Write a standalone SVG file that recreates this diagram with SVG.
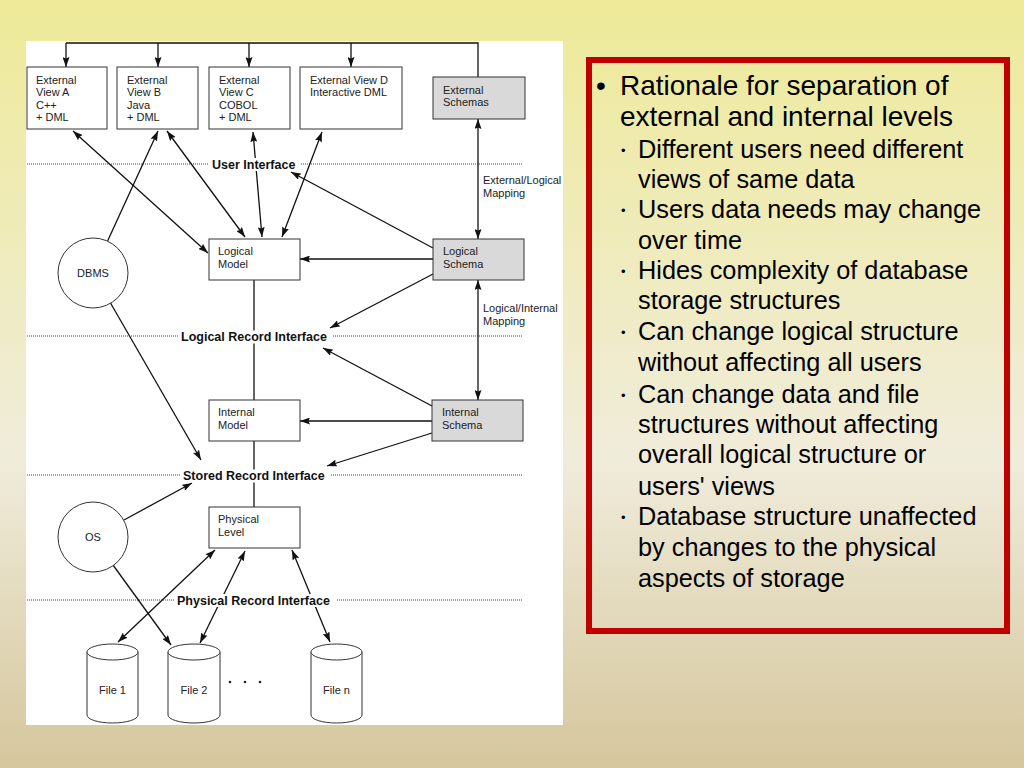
<svg xmlns="http://www.w3.org/2000/svg" width="1024" height="768" viewBox="0 0 1024 768">
<defs>
<linearGradient id="bg" x1="0" y1="0" x2="0" y2="1">
<stop offset="0" stop-color="#eeea98"/>
<stop offset="0.6" stop-color="#f0ecdb"/>
<stop offset="1" stop-color="#d5c69c"/>
</linearGradient>
<marker id="ah" viewBox="0 0 10 7" refX="10" refY="3.5" markerWidth="10" markerHeight="7" markerUnits="userSpaceOnUse" orient="auto-start-reverse">
<path d="M0,0 L10,3.5 L0,7 L1.5,3.5 z" fill="#111"/>
</marker>
<style>
.box{fill:#fff;stroke:#333;stroke-width:1}
.gbox{fill:#d9d9d9;stroke:#333;stroke-width:1}
.t{font-family:"Liberation Sans",Arial,sans-serif;font-size:11px;fill:#222}
.ti{font-family:"Liberation Sans",Arial,sans-serif;font-size:12.5px;font-weight:bold;fill:#111}
.c{fill:none;stroke:#111;stroke-width:1.3}
.a{fill:none;stroke:#111;stroke-width:1.3;marker-end:url(#ah)}
.b{fill:none;stroke:#111;stroke-width:1.3;marker-start:url(#ah);marker-end:url(#ah)}
.dot{stroke:#444;stroke-width:1;stroke-dasharray:1 1}
.m{font-family:"Liberation Sans",Arial,sans-serif;font-size:28px;fill:#000}
.s{font-family:"Liberation Sans",Arial,sans-serif;font-size:25.3px;fill:#000}
.sb{font-family:"Liberation Sans",Arial,sans-serif;font-size:13px;fill:#000}
</style>
</defs>
<rect x="0" y="0" width="1024" height="768" fill="url(#bg)"/>
<rect x="26" y="41" width="537" height="684" fill="#fff"/>

<g id="interfaces">
<line class="dot" x1="27" y1="164" x2="522" y2="164"/>
<line class="dot" x1="27" y1="336" x2="522" y2="336"/>
<line class="dot" x1="27" y1="475" x2="522" y2="475"/>
<line class="dot" x1="27" y1="600" x2="522" y2="600"/>
</g>

<g id="connectors">
<polyline class="c" points="66,43 478,43 478,77"/>
<line class="a" x1="66" y1="43" x2="66" y2="67"/>
<line class="a" x1="158" y1="43" x2="158" y2="67"/>
<line class="a" x1="249" y1="43" x2="249" y2="67"/>
<line class="a" x1="351" y1="43" x2="351" y2="67"/>
<line class="b" x1="73" y1="131" x2="208" y2="253"/>
<line class="a" x1="107.6" y1="241" x2="158" y2="131"/>
<line class="b" x1="167" y1="131" x2="245" y2="237"/>
<line class="b" x1="253" y1="132" x2="262" y2="237"/>
<line class="b" x1="322" y1="132" x2="282" y2="237"/>
<line class="b" x1="478" y1="119" x2="478" y2="239"/>
<line class="a" x1="433" y1="248" x2="291" y2="172"/>
<line class="a" x1="433" y1="259" x2="300" y2="259"/>
<line class="a" x1="433" y1="274" x2="330" y2="328"/>
<line class="b" x1="478" y1="280" x2="478" y2="400"/>
<line class="c" x1="254" y1="280" x2="254" y2="400"/>
<line class="c" x1="254" y1="441" x2="254" y2="507"/>
<line class="a" x1="110.5" y1="303" x2="201" y2="460"/>
<line class="a" x1="432" y1="406" x2="323" y2="348"/>
<line class="a" x1="432" y1="421" x2="300" y2="421"/>
<line class="a" x1="432" y1="433" x2="327" y2="466"/>
<line class="a" x1="124" y1="520" x2="192" y2="483"/>
<line class="a" x1="113" y1="565" x2="171" y2="645"/>
<line class="b" x1="215" y1="550" x2="118" y2="642"/>
<line class="b" x1="245" y1="551" x2="200" y2="643"/>
<line class="b" x1="292" y1="550" x2="330" y2="642"/>
</g>

<g id="interface-labels">
<rect x="209" y="158" width="91" height="13" fill="#fff"/>
<text class="ti" x="212" y="168.5">User Interface</text>
<rect x="178" y="330.5" width="155" height="13" fill="#fff"/>
<text class="ti" x="181" y="340.5">Logical Record Interface</text>
<rect x="180" y="469.5" width="151" height="13" fill="#fff"/>
<text class="ti" x="183" y="479.5">Stored Record Interface</text>
<rect x="174" y="594" width="162" height="13" fill="#fff"/>
<text class="ti" x="177" y="604.5">Physical Record Interface</text>
</g>

<g id="viewA"><rect class="box" x="27" y="67" width="80" height="62"/>
<text class="t" x="36" y="83.5">External</text><text class="t" x="36" y="96">View A</text><text class="t" x="36" y="108.5">C++</text><text class="t" x="36" y="121">+ DML</text></g>
<g id="viewB"><rect class="box" x="117" y="67" width="81" height="62"/>
<text class="t" x="127" y="83.5">External</text><text class="t" x="127" y="96">View B</text><text class="t" x="127" y="108.5">Java</text><text class="t" x="127" y="121">+ DML</text></g>
<g id="viewC"><rect class="box" x="209" y="67" width="81" height="62"/>
<text class="t" x="219" y="83.5">External</text><text class="t" x="219" y="96">View C</text><text class="t" x="219" y="108.5">COBOL</text><text class="t" x="219" y="121">+ DML</text></g>
<g id="viewD"><rect class="box" x="300" y="67" width="102" height="62"/>
<text class="t" x="310" y="83.5">External View D</text><text class="t" x="310" y="96">Interactive DML</text></g>
<g id="externalSchemas"><rect class="gbox" x="433" y="77" width="92" height="42"/>
<text class="t" x="443" y="93.5">External</text><text class="t" x="443" y="106">Schemas</text></g>
<g id="mapping1"><text class="t" x="483" y="184">External/Logical</text><text class="t" x="483" y="196.5">Mapping</text></g>
<g id="dbms"><circle cx="93" cy="273" r="35" fill="#fff" stroke="#333" stroke-width="1"/>
<text class="t" x="93" y="277" text-anchor="middle">DBMS</text></g>
<g id="logicalModel"><rect class="box" x="209" y="239" width="91" height="41"/>
<text class="t" x="218" y="255">Logical</text><text class="t" x="218" y="268">Model</text></g>
<g id="logicalSchema"><rect class="gbox" x="433" y="239" width="91" height="41"/>
<text class="t" x="443" y="255">Logical</text><text class="t" x="443" y="268">Schema</text></g>
<g id="mapping2"><text class="t" x="483" y="312">Logical/Internal</text><text class="t" x="483" y="325">Mapping</text></g>
<g id="internalModel"><rect class="box" x="209" y="400" width="91" height="41"/>
<text class="t" x="218" y="416">Internal</text><text class="t" x="218" y="429">Model</text></g>
<g id="internalSchema"><rect class="gbox" x="432" y="400" width="91" height="41"/>
<text class="t" x="442" y="416">Internal</text><text class="t" x="442" y="429">Schema</text></g>
<g id="os"><circle cx="93" cy="537" r="35" fill="#fff" stroke="#333" stroke-width="1"/>
<text class="t" x="93" y="541" text-anchor="middle">OS</text></g>
<g id="physicalLevel"><rect class="box" x="209" y="507" width="91" height="41"/>
<text class="t" x="218" y="523">Physical</text><text class="t" x="218" y="536">Level</text></g>
<g id="file1"><path d="M87,652 L87,715 A25.5,8 0 0 0 138,715 L138,652" fill="#fff" stroke="#333"/><ellipse cx="112.5" cy="652" rx="25.5" ry="8" fill="#fff" stroke="#333"/>
<text class="t" x="112.5" y="694" text-anchor="middle">File 1</text></g>
<g id="file2"><path d="M168,652 L168,715 A26,8 0 0 0 220,715 L220,652" fill="#fff" stroke="#333"/><ellipse cx="194" cy="652" rx="26" ry="8" fill="#fff" stroke="#333"/>
<text class="t" x="194" y="694" text-anchor="middle">File 2</text></g>
<g id="dots"><circle cx="230" cy="682" r="1.3" fill="#222"/><circle cx="245" cy="682" r="1.3" fill="#222"/><circle cx="260" cy="682" r="1.3" fill="#222"/></g>
<g id="fileN"><path d="M311,652 L311,715 A25.5,8 0 0 0 362,715 L362,652" fill="#fff" stroke="#333"/><ellipse cx="336.5" cy="652" rx="25.5" ry="8" fill="#fff" stroke="#333"/>
<text class="t" x="336.5" y="694" text-anchor="middle">File n</text></g>

<g id="textbox">
<rect x="589" y="60" width="418" height="571" fill="none" stroke="#c00000" stroke-width="6"/>
<text class="m" x="596" y="95">•</text>
<text class="m" x="620" y="95">Rationale for separation of</text>
<text class="m" x="620" y="126">external and internal levels</text>
<g class="sb">
<text x="621" y="155">•</text>
<text x="621" y="215">•</text>
<text x="621" y="276">•</text>
<text x="621" y="337">•</text>
<text x="621" y="400">•</text>
<text x="621" y="522">•</text>
</g>
<g class="s">
<text x="638" y="158">Different users need different</text>
<text x="638" y="188">views of same data</text>
<text x="638" y="218">Users data needs may change</text>
<text x="638" y="249">over time</text>
<text x="638" y="279">Hides complexity of database</text>
<text x="638" y="309">storage structures</text>
<text x="638" y="340">Can change logical structure</text>
<text x="638" y="371">without affecting all users</text>
<text x="638" y="403">Can change data and file</text>
<text x="638" y="433">structures without affecting</text>
<text x="638" y="463">overall logical structure or</text>
<text x="638" y="495">users' views</text>
<text x="638" y="525">Database structure unaffected</text>
<text x="638" y="556">by changes to the physical</text>
<text x="638" y="587">aspects of storage</text>
</g>
</g>
</svg>
